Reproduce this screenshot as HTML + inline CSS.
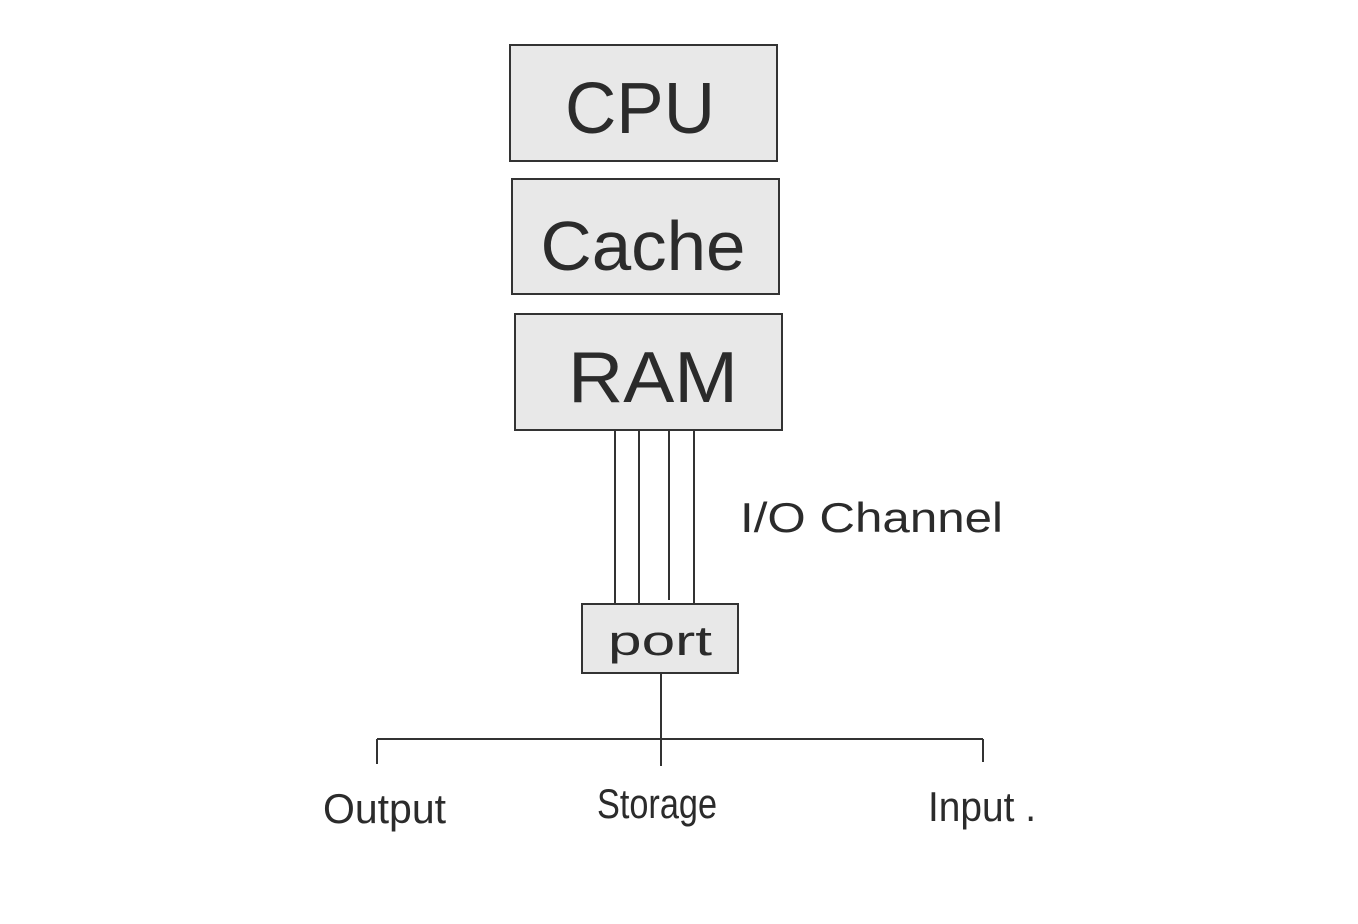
<!DOCTYPE html>
<html><head><meta charset="utf-8"><style>
body{margin:0;background:#fff;}
svg{display:block}
text{font-family:"Liberation Sans",sans-serif;fill:#2b2b2b;}
</style></head><body>
<svg width="1358" height="924" viewBox="0 0 1358 924" xmlns="http://www.w3.org/2000/svg">
<rect width="1358" height="924" fill="#fff"/>
<g fill="#e8e8e8" stroke="#333" stroke-width="2">
<rect x="510" y="45" width="267" height="116"/>
<rect x="512" y="179" width="267" height="115"/>
<rect x="515" y="314" width="267" height="116"/>
<rect x="582" y="604" width="156" height="69"/>
</g>
<g stroke="#333" stroke-width="2" fill="none">
<line x1="615" y1="430" x2="615" y2="603"/>
<line x1="639" y1="430" x2="639" y2="603"/>
<line x1="669" y1="430" x2="669" y2="600"/>
<line x1="694" y1="430" x2="694" y2="603"/>
<line x1="661" y1="673" x2="661" y2="766"/>
<line x1="377" y1="739" x2="983" y2="739"/>
<line x1="377" y1="739" x2="377" y2="764"/>
<line x1="983" y1="739" x2="983" y2="762"/>
</g>
<text x="640" y="133" font-size="72" text-anchor="middle" textLength="150" lengthAdjust="spacingAndGlyphs">CPU</text>
<text x="643" y="270" font-size="70" text-anchor="middle" textLength="205" lengthAdjust="spacingAndGlyphs">Cache</text>
<text x="653" y="402" font-size="72" text-anchor="middle" textLength="170" lengthAdjust="spacingAndGlyphs">RAM</text>
<text x="660" y="655" font-size="42" text-anchor="middle" textLength="104" lengthAdjust="spacingAndGlyphs">port</text>
<text x="740" y="532" font-size="42" textLength="263" lengthAdjust="spacingAndGlyphs">I/O Channel</text>
<text x="323" y="823" font-size="42" textLength="123" lengthAdjust="spacingAndGlyphs">Output</text>
<text x="597" y="818" font-size="42" textLength="120" lengthAdjust="spacingAndGlyphs">Storage</text>
<text x="928" y="821" font-size="42" textLength="108" lengthAdjust="spacingAndGlyphs">Input .</text>
</svg>
</body></html>
